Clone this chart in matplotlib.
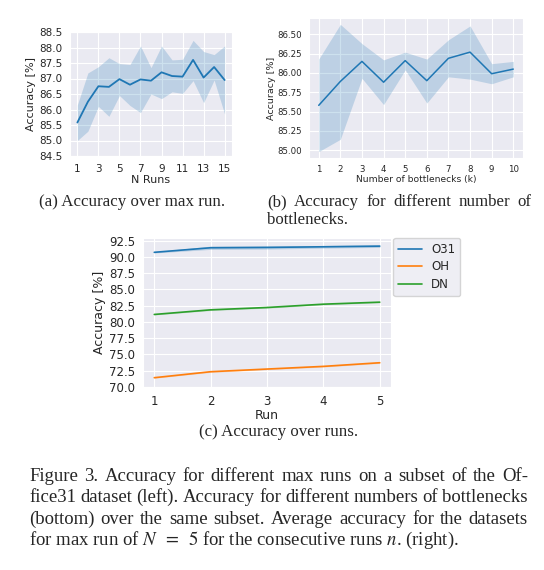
import numpy as np
import matplotlib
matplotlib.use("Agg")
import matplotlib.pyplot as plt
import seaborn as sns

# (a) accuracy over max run
n_runs = [1, 2, 3, 4, 5, 6, 7, 8, 9, 10, 11, 12, 13, 14, 15]
a_mean = [85.58, 86.25, 86.75, 86.73, 86.98, 86.80, 86.97, 86.93, 87.20, 87.08, 87.06, 87.60, 87.03, 87.37, 86.95]
a_high = [86.15, 87.18, 87.38, 87.67, 87.48, 87.45, 88.05, 87.35, 88.05, 87.60, 87.62, 88.23, 87.87, 87.77, 88.05]
a_low = [85.00, 85.30, 86.10, 85.78, 86.45, 86.13, 85.90, 86.50, 86.35, 86.57, 86.52, 86.93, 86.22, 86.95, 85.85]

# (b) accuracy for number of bottlenecks
k_vals = [1, 2, 3, 4, 5, 6, 7, 8, 9, 10]
b_mean = [85.58, 85.89, 86.15, 85.88, 86.16, 85.90, 86.19, 86.27, 85.99, 86.05]
b_high = [86.18, 86.63, 86.38, 86.17, 86.27, 86.18, 86.43, 86.61, 86.12, 86.15]
b_low = [84.98, 85.14, 85.93, 85.59, 86.04, 85.61, 85.95, 85.92, 85.86, 85.95]

# (c) accuracy over runs
runs = [1, 2, 3, 4, 5]
datasets = ["O31", "OH", "DN"]
c_mean = {
    "O31": [90.70, 91.40, 91.45, 91.55, 91.65],
    "OH": [71.43, 72.35, 72.76, 73.17, 73.73],
    "DN": [81.15, 81.86, 82.22, 82.73, 83.04],
}
c_spread = {
    "O31": [0.10, 0.25, 0.25, 0.20, 0.20],
    "OH": [0.08, 0.10, 0.10, 0.10, 0.10],
    "DN": [0.08, 0.10, 0.10, 0.10, 0.10],
}

cap_a = "(a) Accuracy over max run."
cap_b = ["(b) Accuracy for different number of", "bottlenecks."]
cap_c = "(c) Accuracy over runs."
fig_caption = [
    "Figure 3.  Accuracy for different max runs on a subset of the Of-",
    "fice31 dataset (left).  Accuracy for different numbers of bottlenecks",
    "(bottom) over the same subset.  Average accuracy for the datasets",
    r"for max run of $N\;\;=\;\;5$ for the consecutive runs $n$. (right).",
]

sns.set_style("darkgrid")
plt.rcParams["mathtext.fontset"] = "stix"

W, H = 544, 570
fig = plt.figure(figsize=(W / 100, H / 100), dpi=100)


def box(l, t, r, b):
    return [l / W, 1 - b / H, (r - l) / W, (b - t) / H]


blue = "#1f77b4"

ax1 = fig.add_axes(box(70, 32, 232, 156))
ax1.plot(n_runs, a_mean, color=blue, lw=1.3)
ax1.fill_between(n_runs, a_low, a_high, color=blue, alpha=0.22, lw=0)
ax1.set_ylim(84.5, 88.5)
ax1.set_yticks(np.arange(84.5, 88.51, 0.5))
ax1.set_xticks(n_runs[::2])
ax1.set_xlabel("N Runs", fontsize=8, labelpad=1)
ax1.set_ylabel("Accuracy [%]", fontsize=8, labelpad=2)
ax1.tick_params(labelsize=7.5, pad=2)

ax2 = fig.add_axes(box(309, 18, 523, 158))
ax2.plot(k_vals, b_mean, color=blue, lw=1.1)
ax2.fill_between(k_vals, b_low, b_high, color=blue, alpha=0.22, lw=0)
ax2.set_xticks(k_vals)
ax2.set_yticks(np.arange(85.0, 86.51, 0.25))
ax2.yaxis.set_major_formatter(matplotlib.ticker.FormatStrFormatter("%.2f"))
ax2.set_xlabel("Number of bottlenecks (k)", fontsize=6.6, labelpad=1)
ax2.set_ylabel("Accuracy [%]", fontsize=6.8, labelpad=1)
ax2.tick_params(labelsize=6.2, pad=1.5)

ax3 = fig.add_axes(box(143, 238, 391, 387))
colors = {"O31": "#1f77b4", "OH": "#ff7f0e", "DN": "#2ca02c"}
for name in datasets:
    m = np.array(c_mean[name])
    s = np.array(c_spread[name])
    ax3.plot(runs, m, color=colors[name], lw=1.2, label=name)
    ax3.fill_between(runs, m - s, m + s, color=colors[name], alpha=0.25, lw=0)
ax3.set_ylim(70, 92.9)
ax3.set_yticks(np.arange(70, 92.6, 2.5))
ax3.set_xticks(runs)
ax3.set_xlabel("Run", fontsize=9, labelpad=1)
ax3.set_ylabel("Accuracy [%]", fontsize=9, labelpad=2)
ax3.tick_params(labelsize=8.5, pad=2)
ax3.legend(loc="upper left", bbox_to_anchor=(1.01, 1.0), fontsize=8.5,
           handlelength=2.0, labelspacing=0.4, borderaxespad=0)

serif = "Liberation Serif"
fig.canvas.draw()
renderer = fig.canvas.get_renderer()


def width_of(s, size):
    t = fig.text(0, 0, s, fontsize=size, family=serif)
    w = t.get_window_extent(renderer).width
    t.remove()
    return w


def justify(line, x0, x1, y, size):
    words = line.split()
    widths = [width_of(w, size) for w in words]
    gap = (x1 - x0 - sum(widths)) / max(len(words) - 1, 1)
    x = x0
    for w, wd in zip(words, widths):
        fig.text(x / W, 1 - y / H, w, fontsize=size, family=serif, va="baseline")
        x += wd + gap


def plain(line, x, y, size, ha="left"):
    fig.text(x / W, 1 - y / H, line, fontsize=size, family=serif, va="baseline", ha=ha)


# sub-captions sized so "(a)" caption is as wide as in the paper
sub_size = 10 * 185 / width_of(cap_a, 10)
plain(cap_a, 39, 206, sub_size)
justify(cap_b[0], 267, 531, 206, sub_size)
plain(cap_b[1], 267, 224, sub_size)
plain(cap_c, 278.5, 436, sub_size, ha="center")

# main caption sized so the tight second line fits its measured width
main_size = 10 * 500 / width_of(fig_caption[1].replace("  ", " "), 10)
for i, line in enumerate(fig_caption[:3]):
    justify(line, 29, 528, 481 + i * 21.3, main_size)
plain(fig_caption[3], 29, 481 + 3 * 21.3, main_size)

fig.savefig("out.png", dpi=100)
